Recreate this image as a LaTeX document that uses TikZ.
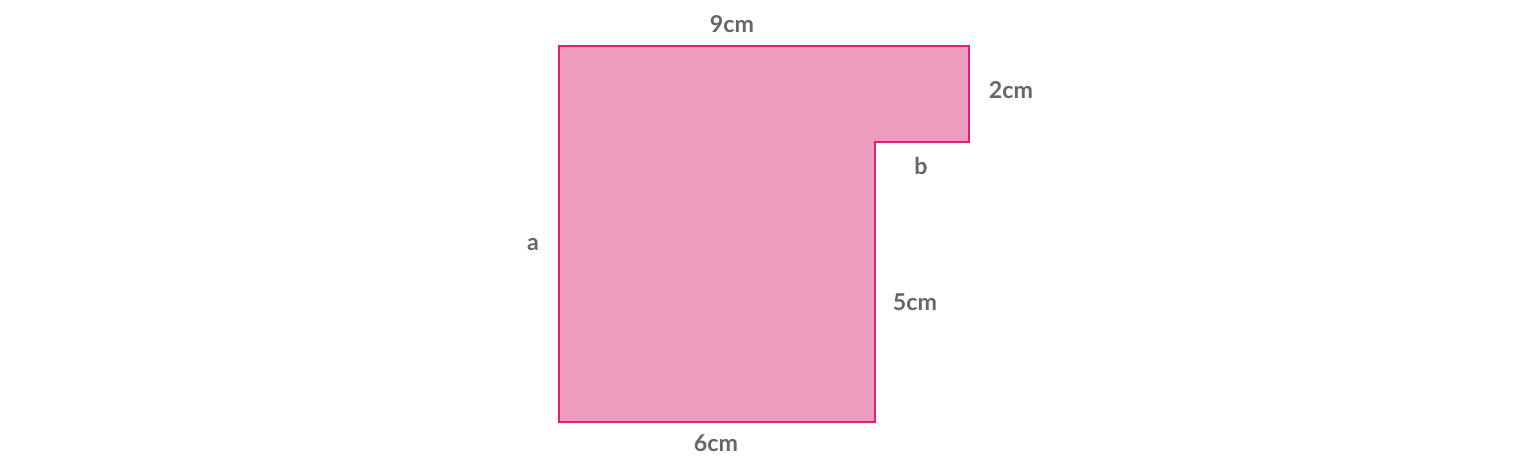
\documentclass[tikz,border=0pt]{standalone}
\usepackage{fontspec}
\setmainfont{Lato}
\definecolor{shapefill}{HTML}{EC9CBC}
\definecolor{shapeedge}{HTML}{E0207A}
\definecolor{labelgray}{HTML}{666666}
\begin{document}
\begin{tikzpicture}[x=0.5pt,y=-0.5pt,
  lbl/.style={text=labelgray,font=\fontsize{11.6}{13}\selectfont\bfseries,inner sep=0pt}]
\useasboundingbox (0,0) rectangle (1536,463);
\coordinate (p1) at (559,46);
\coordinate (p2) at (969,46);
\coordinate (p3) at (969,142);
\coordinate (p4) at (875,142);
\coordinate (p5) at (875,422);
\coordinate (p6) at (559,422);
\draw[fill=shapefill,draw=shapeedge,line width=1pt] (p1) -- (p2) -- (p3) -- (p4) -- (p5) -- (p6) -- cycle;
\node[lbl] (t9) at (732,24) {9cm};
\node[lbl] (t2) at (1011,90) {2cm};
\node[lbl] (tb) at (921,166) {b};
\node[lbl] (ta) at (533,245) {a};
\node[lbl] (t5) at (915,302) {5cm};
\node[lbl] (t6) at (716,443) {6cm};
\end{tikzpicture}
\end{document}
